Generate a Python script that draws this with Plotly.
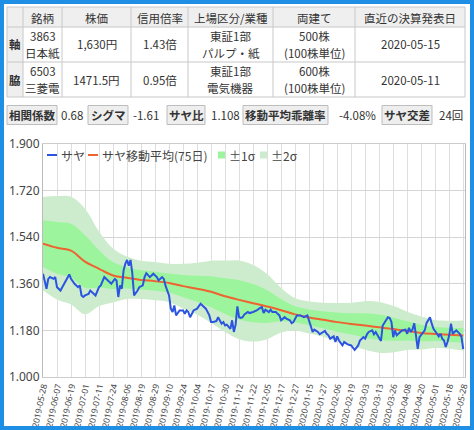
import plotly.graph_objects as go

# ---- data ----
tick_labels = [
    "2019-05-28", "2019-06-07", "2019-06-19", "2019-07-01", "2019-07-11", "2019-07-24",
    "2019-08-06", "2019-08-19", "2019-08-29", "2019-09-10", "2019-09-24", "2019-10-04",
    "2019-10-17", "2019-10-30", "2019-11-12", "2019-11-22", "2019-12-05", "2019-12-17",
    "2019-12-27", "2020-01-15", "2020-01-27", "2020-02-06", "2020-02-19", "2020-03-03",
    "2020-03-13", "2020-03-26", "2020-04-08", "2020-04-20", "2020-05-01", "2020-05-18",
    "2020-05-28",
]
days_per_tick = 8

# spread ratio (サヤ), x = trading-day index
saya_day = [
    0, 1, 2, 3, 4, 6, 7, 8, 10, 11, 13, 15, 16, 18, 20, 21, 22, 23, 24, 26, 27, 29, 30,
    32, 33, 35, 37, 39, 41, 42, 43, 44, 45, 46, 47, 48, 49, 50, 51, 52, 54, 55, 57, 58,
    59, 61, 62, 63, 65, 66, 68, 69, 70, 72, 73, 74, 75, 76, 78, 80, 81, 82, 83, 84, 86,
    88, 90, 92, 93, 95, 96, 97, 99, 100, 102, 103, 104, 105, 107, 108, 109, 110, 111,
    112, 113, 114, 115, 117, 118, 120, 122, 124, 125, 126, 127, 129, 130, 131, 133, 134,
    135, 136, 138, 139, 141, 142, 143, 144, 145, 147, 148, 149, 151, 152, 153, 154, 155,
    157, 158, 160, 161, 162, 163, 164, 166, 167, 168, 169, 171, 172, 173, 174, 176, 177,
    178, 180, 181, 183, 184, 185, 186, 188, 189, 190, 192, 193, 194, 196, 197, 198, 199,
    200, 201, 202, 204, 205, 207, 208, 209, 210, 211, 212, 213, 214, 215, 217, 218, 219,
    221, 222, 223, 225, 226, 227, 228, 229, 230, 231, 232, 233, 234, 235, 236, 238, 239,
    240,
]
saya_value = [
    1.399, 1.372, 1.341, 1.379, 1.386, 1.379, 1.386, 1.347, 1.334, 1.347, 1.373, 1.396,
    1.379, 1.360, 1.347, 1.354, 1.315, 1.309, 1.315, 1.321, 1.334, 1.321, 1.315, 1.347,
    1.354, 1.386, 1.373, 1.360, 1.379, 1.373, 1.309, 1.354, 1.341, 1.411, 1.437, 1.452,
    1.430, 1.452, 1.400, 1.315, 1.334, 1.347, 1.354, 1.386, 1.401, 1.386, 1.392, 1.399,
    1.386, 1.373, 1.386, 1.379, 1.352, 1.315, 1.264, 1.251, 1.276, 1.238, 1.257, 1.257,
    1.244, 1.257, 1.251, 1.231, 1.257, 1.264, 1.283, 1.270, 1.264, 1.238, 1.212, 1.212,
    1.216, 1.231, 1.206, 1.212, 1.199, 1.202, 1.186, 1.219, 1.174, 1.202, 1.273, 1.231,
    1.228, 1.231, 1.242, 1.251, 1.247, 1.251, 1.257, 1.267, 1.270, 1.247, 1.260, 1.251,
    1.260, 1.251, 1.251, 1.244, 1.238, 1.219, 1.231, 1.225, 1.219, 1.208, 1.212, 1.225,
    1.238, 1.238, 1.234, 1.231, 1.238, 1.219, 1.193, 1.174, 1.183, 1.174, 1.165, 1.174,
    1.178, 1.167, 1.161, 1.148, 1.157, 1.135, 1.157, 1.141, 1.122, 1.135, 1.131, 1.126,
    1.122, 1.113, 1.105, 1.122, 1.141, 1.154, 1.148, 1.165, 1.174, 1.180, 1.165, 1.174,
    1.154, 1.139, 1.199, 1.219, 1.231, 1.228, 1.212, 1.154, 1.180, 1.161, 1.174, 1.180,
    1.183, 1.167, 1.190, 1.174, 1.183, 1.208, 1.161, 1.109, 1.154, 1.174, 1.180, 1.208,
    1.231, 1.206, 1.186, 1.167, 1.157, 1.167, 1.148, 1.141, 1.116, 1.135, 1.161, 1.206,
    1.167, 1.174, 1.180, 1.167, 1.154, 1.108,
]

# 75-day moving average and sigma, read at every x tick
ma_value = [
    1.515, 1.499, 1.488, 1.446, 1.418, 1.392, 1.383, 1.375, 1.370, 1.363, 1.351, 1.341,
    1.329, 1.312, 1.298, 1.285, 1.272, 1.258, 1.242, 1.230, 1.221, 1.212, 1.205, 1.199,
    1.192, 1.185, 1.178, 1.170, 1.166, 1.163, 1.160,
]
sigma_value = [
    0.090, 0.100, 0.104, 0.102, 0.072, 0.052, 0.041, 0.037, 0.037, 0.037, 0.043, 0.050,
    0.060, 0.069, 0.076, 0.074, 0.063, 0.043, 0.031, 0.031, 0.033, 0.037, 0.041, 0.047,
    0.049, 0.045, 0.037, 0.032, 0.027, 0.027, 0.029,
]

y_ticks = [1.000, 1.180, 1.360, 1.540, 1.720, 1.900]

table_header = ["", "銘柄", "株価", "信用倍率", "上場区分/業種", "両建て", "直近の決算発表日"]
table_rows = [
    ["軸", "3863\n日本紙", "1,630円", "1.43倍", "東証1部\nパルプ・紙", "500株\n(100株単位)", "2020-05-15"],
    ["脇", "6503\n三菱電", "1471.5円", "0.95倍", "東証1部\n電気機器", "600株\n(100株単位)", "2020-05-11"],
]
stat_labels = ["相関係数", "シグマ", "サヤ比", "移動平均乖離率", "サヤ交差"]
stat_values = ["0.68", "-1.61", "1.108", "-4.08%", "24回"]

# ---- figure ----
W, H = 474, 430
L, R, T, B = 43, 465, 144, 377  # plot area in pixels


def fx(px):
    return (px - L) / (R - L)


def fy(py):
    return (B - py) / (B - T)


BLUE = "#2b54e0"
ORANGE = "#ee6330"
SIG1 = "#9cf59c"
SIG2 = "#cdeccd"

band_day = [i * days_per_tick for i in range(len(ma_value))]
up2 = [m + 2 * s for m, s in zip(ma_value, sigma_value)]
lo2 = [m - 2 * s for m, s in zip(ma_value, sigma_value)]
up1 = [m + s for m, s in zip(ma_value, sigma_value)]
lo1 = [m - s for m, s in zip(ma_value, sigma_value)]

fig = go.Figure()
fig.add_trace(go.Scatter(x=band_day, y=up2, mode="lines", line=dict(width=0, shape="spline"),
                         hoverinfo="skip", showlegend=False))
fig.add_trace(go.Scatter(x=band_day, y=lo2, mode="lines", line=dict(width=0, shape="spline"),
                         fill="tonexty", fillcolor=SIG2, name="±2σ", showlegend=False))
fig.add_trace(go.Scatter(x=band_day, y=up1, mode="lines", line=dict(width=0, shape="spline"),
                         hoverinfo="skip", showlegend=False))
fig.add_trace(go.Scatter(x=band_day, y=lo1, mode="lines", line=dict(width=0, shape="spline"),
                         fill="tonexty", fillcolor=SIG1, name="±1σ", showlegend=False))
fig.add_trace(go.Scatter(x=band_day, y=ma_value, mode="lines", name="サヤ移動平均(75日)",
                         line=dict(color=ORANGE, width=2, shape="spline"), showlegend=False))
fig.add_trace(go.Scatter(x=saya_day, y=saya_value, mode="lines", name="サヤ",
                         line=dict(color=BLUE, width=2), showlegend=False))

shapes = []
annotations = []


def rect(x0, y0, x1, y1, fill=None, line="#c8c8c8", width=1):
    shapes.append(dict(type="rect", xref="paper", yref="paper",
                       x0=fx(x0), x1=fx(x1), y0=fy(y0), y1=fy(y1),
                       fillcolor=fill, line=dict(color=line, width=width)))


def label(x, y, s, size=11, bold=False, anchor="center", color="#333"):
    annotations.append(dict(x=fx(x), y=fy(y), xref="paper", yref="paper",
                            text="<b>%s</b>" % s if bold else s, showarrow=False,
                            xanchor=anchor, yanchor="middle",
                            font=dict(size=size, color=color)))


# table
col_x = [7, 23, 62, 131, 188, 273, 355, 465]
row_y = [7, 27, 62, 97]
rect(col_x[0], row_y[0], col_x[-1], row_y[1], fill="#efefef", width=0)
rect(col_x[0], row_y[1], col_x[1], row_y[-1], fill="#efefef", width=0)
for xv in col_x:
    shapes.append(dict(type="line", xref="paper", yref="paper", x0=fx(xv), x1=fx(xv),
                       y0=fy(row_y[0]), y1=fy(row_y[-1]), line=dict(color="#c8c8c8", width=1)))
for yv in row_y:
    shapes.append(dict(type="line", xref="paper", yref="paper", x0=fx(col_x[0]), x1=fx(col_x[-1]),
                       y0=fy(yv), y1=fy(yv), line=dict(color="#c8c8c8", width=1)))

for c, h in enumerate(table_header):
    cx = (col_x[c] + col_x[c + 1]) / 2
    label(cx, (row_y[0] + row_y[1]) / 2 + 0.5, h, size=11.5)
for r, row in enumerate(table_rows):
    cy = (row_y[r + 1] + row_y[r + 2]) / 2
    for c, cell in enumerate(row):
        cx = (col_x[c] + col_x[c + 1]) / 2
        lines = cell.split("\n")
        if len(lines) == 1:
            label(cx, cy, cell, size=11.5, bold=(c == 0))
        else:
            label(cx, cy - 8.5, lines[0], size=11.5)
            label(cx, cy + 8.5, lines[1], size=11.5)

# stats row
box_x = [(7, 57), (88, 128), (167, 205), (243, 328), (382, 432)]
val_x = [72, 146, 225, 357, 451]
for (x0, x1), lab, vx, val in zip(box_x, stat_labels, val_x, stat_values):
    rect(x0, 105.5, x1, 124.5, fill="#eeeeee", line="#bdbdbd")
    label((x0 + x1) / 2, 115, lab, size=11.5, bold=True)
    label(vx, 115, val, size=11.5)

# manual legend
LY = 155
shapes.append(dict(type="line", xref="paper", yref="paper", x0=fx(47), x1=fx(57), y0=fy(LY), y1=fy(LY),
                   line=dict(color=BLUE, width=2)))
label(59, LY, "サヤ", size=12, anchor="left", color="#444")
shapes.append(dict(type="line", xref="paper", yref="paper", x0=fx(88), x1=fx(98), y0=fy(LY), y1=fy(LY),
                   line=dict(color=ORANGE, width=2)))
label(100, LY, "サヤ移動平均(75日)", size=12, anchor="left", color="#444")
rect(218, LY - 3.5, 225, LY + 3.5, fill=SIG1, width=0)
label(227, LY, "±1σ", size=12, anchor="left", color="#444")
rect(260, LY - 3.5, 267, LY + 3.5, fill=SIG2, width=0)
label(269, LY, "±2σ", size=12, anchor="left", color="#444")

# outer blue frame
rect(2, 2, 472, 428, line="#1e8fe5", width=4)

fig.update_layout(
    width=W, height=H,
    margin=dict(l=L, r=W - R, t=T, b=H - B),
    paper_bgcolor="white", plot_bgcolor="white",
    font=dict(family="Noto Sans CJK JP, Noto Sans, sans-serif", color="#333"),
    shapes=shapes, annotations=annotations,
    showlegend=False,
)
fig.update_xaxes(
    range=[0, days_per_tick * (len(tick_labels) - 1) + 1],
    tickvals=[i * days_per_tick for i in range(len(tick_labels))],
    ticktext=tick_labels, tickangle=-78, automargin=False,
    tickfont=dict(size=8.5, color="#444", family="Noto Sans, sans-serif"),
    showgrid=True, gridcolor="#dedede", gridwidth=1,
    showline=True, linecolor="#cccccc", mirror=True, zeroline=False, ticks="",
)
fig.update_yaxes(
    range=[1.0, 1.9], tickvals=y_ticks, tickformat=".3f", automargin=False,
    tickfont=dict(size=12, color="#444", family="Noto Sans, sans-serif"),
    showgrid=True, gridcolor="#d4d4d4", gridwidth=1,
    showline=True, linecolor="#bbbbbb", mirror=True, zeroline=False, ticks="",
)

fig.write_html(
    "out.html",
    config={"displayModeBar": False},
    post_script="document.body.style.margin='0';document.body.style.overflow='hidden';",
)
